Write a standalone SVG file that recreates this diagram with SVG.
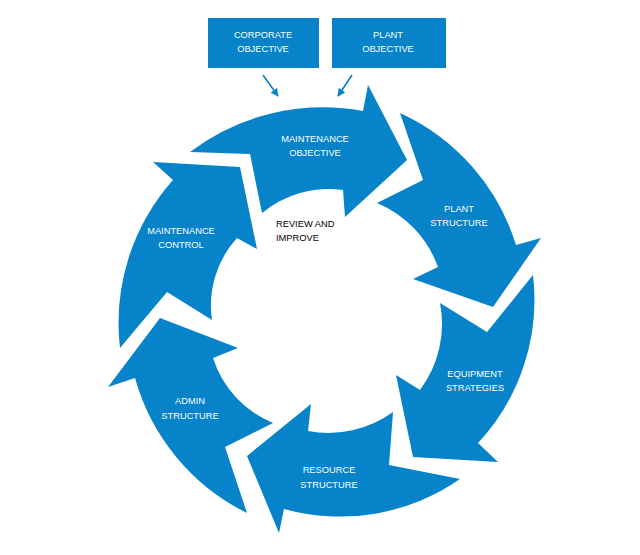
<svg xmlns="http://www.w3.org/2000/svg" width="640" height="555" viewBox="0 0 640 555">
  <defs>
    <style>
      .arrow { fill: #0683c9; }
      .box { fill: #0683c9; }
      .lbl { font-family: "Liberation Sans", Arial, sans-serif; font-size: 9.3px; fill: #ffffff; text-anchor: middle; }
      .center { font-family: "Liberation Sans", Arial, sans-serif; font-size: 9.3px; fill: #000000; }
      .conn { stroke: #0683c9; stroke-width: 1.6; fill: none; }
    </style>
    <marker id="ah" viewBox="0 0 10 10" refX="9" refY="5" markerWidth="8" markerHeight="8" orient="auto" markerUnits="userSpaceOnUse">
      <path d="M0,0 L10,5 L0,10 Z" fill="#0683c9"/>
    </marker>
  </defs>
  <rect width="640" height="555" fill="#ffffff"/>

  <g id="corporate-objective">
    <rect class="box" x="208" y="18" width="111" height="50"/>
    <text class="lbl" x="263" y="38">CORPORATE</text>
    <text class="lbl" x="263" y="52">OBJECTIVE</text>
  </g>
  <g id="plant-objective">
    <rect class="box" x="332" y="18" width="114" height="50"/>
    <text class="lbl" x="388" y="38">PLANT</text>
    <text class="lbl" x="388" y="52">OBJECTIVE</text>
  </g>

  <g id="maintenance-objective">
    <path class="arrow" d="M190,152 A220,220 0 0 1 363,111 L368,85 L407,160 L345,217 L343,190 A105,105 0 0 0 262,213 L250,154 Z"/>
    <text class="lbl" x="315" y="142">MAINTENANCE</text>
    <text class="lbl" x="315" y="156">OBJECTIVE</text>
  </g>
  <g id="plant-structure">
    <path class="arrow" d="M400,113 A215,215 0 0 1 516,245 L541,238 L493,307 L413,279 L438,267 A110,110 0 0 0 377,203 L423,180 Z"/>
    <text class="lbl" x="459" y="212">PLANT</text>
    <text class="lbl" x="459" y="226">STRUCTURE</text>
  </g>
  <g id="equipment-strategies">
    <path class="arrow" d="M533,275 A210,210 0 0 1 478,443 L498,462 L413,457 L396,375 L420,390 A110,110 0 0 0 440,303 L487,332 Z"/>
    <text class="lbl" x="475" y="377">EQUIPMENT</text>
    <text class="lbl" x="475" y="391">STRATEGIES</text>
  </g>
  <g id="resource-structure">
    <path class="arrow" d="M460,479 A210,210 0 0 1 284,509 L279,533 L247,456 L311,404 L308,431 A110,110 0 0 0 393,412 L389,465 Z"/>
    <text class="lbl" x="329" y="473">RESOURCE</text>
    <text class="lbl" x="329" y="488">STRUCTURE</text>
  </g>
  <g id="admin-structure">
    <path class="arrow" d="M247,513 A215,215 0 0 1 135,378 L108,387 L160,318 L238,348 L213,358 A105,105 0 0 0 273,423 L225,447 Z"/>
    <text class="lbl" x="190" y="404">ADMIN</text>
    <text class="lbl" x="190" y="419">STRUCTURE</text>
  </g>
  <g id="maintenance-control">
    <path class="arrow" d="M120,348 A215,215 0 0 1 173,180 L153,162 L240,167 L257,249 L237,238 A100,100 0 0 0 212,320 L167,292 Z"/>
    <text class="lbl" x="181" y="234">MAINTENANCE</text>
    <text class="lbl" x="181" y="248">CONTROL</text>
  </g>

  <g id="review-and-improve">
    <text class="center" x="276" y="227">REVIEW AND</text>
    <text class="center" x="276" y="241">IMPROVE</text>
  </g>

  <g id="connectors">
    <line class="conn" x1="263" y1="75" x2="278" y2="96" marker-end="url(#ah)"/>
    <line class="conn" x1="352" y1="75" x2="338" y2="96" marker-end="url(#ah)"/>
  </g>
</svg>
